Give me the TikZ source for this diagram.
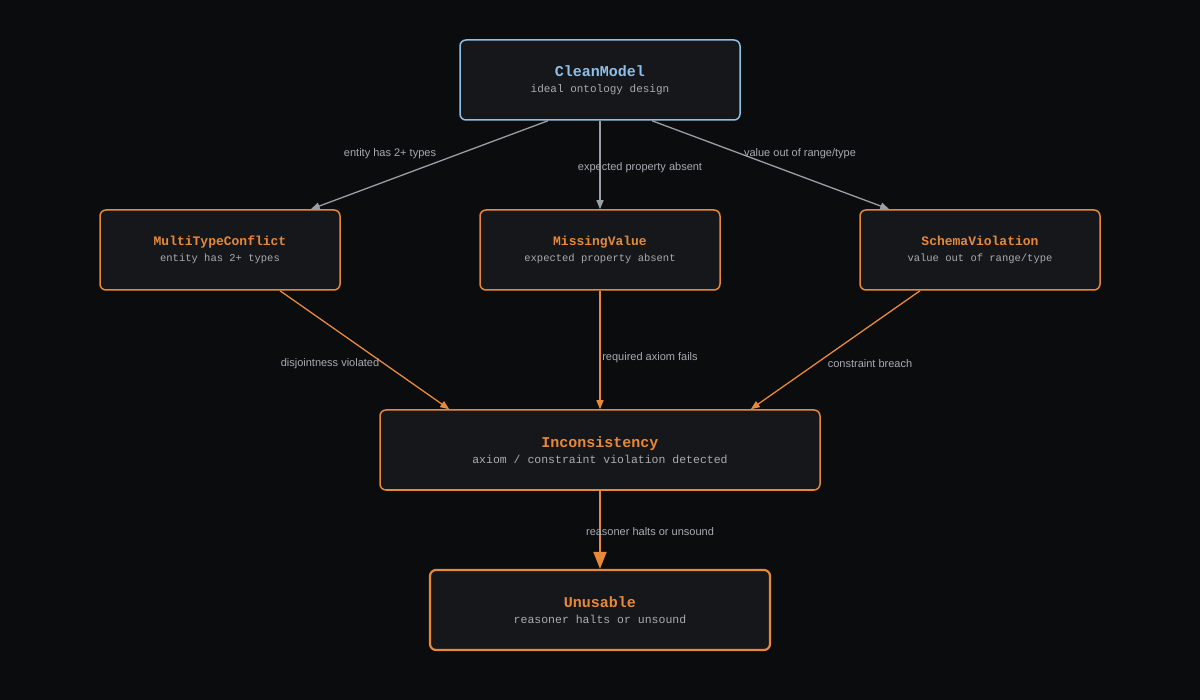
\documentclass[tikz,border=0pt]{standalone}
\usepackage{fontspec}
\setmainfont{Liberation Sans}
\newfontfamily\monofont{Liberation Mono}
\usetikzlibrary{calc}
\usetikzlibrary{arrows.meta}
\usetikzlibrary{positioning}
\definecolor{bgdark}{HTML}{0B0C0E}
\definecolor{boxfill}{HTML}{15171B}
\definecolor{orangeline}{HTML}{E8893A}
\definecolor{blueline}{HTML}{8EC0EA}
\definecolor{grayline}{HTML}{9A9EA6}
\definecolor{labeltext}{HTML}{A8ABB0}
\tikzset{state/.style={rectangle,rounded corners=6pt,fill=boxfill,draw=orangeline,line width=1.5pt,inner sep=0pt,align=center}}
\tikzset{elabel/.style={font=\fontsize{11}{13}\selectfont,text=labeltext}}
\begin{document}
\begin{tikzpicture}[x=1pt,y=-1pt]
  % canvas
  \fill[bgdark] (0,0) rectangle (1200,700);
  \useasboundingbox (0,0) rectangle (1200,700);
 \tikzset{edge/.style={-{Triangle[length=9pt,width=7pt]},line width=1.3pt}}

  \node[state,draw=blueline,minimum width=280pt,minimum height=80pt] (clean) at (600,80)
    {{\monofont\bfseries\fontsize{15}{18}\selectfont\color{blueline}CleanModel}\\[4pt]
     {\monofont\fontsize{11}{13}\selectfont\color{labeltext}ideal ontology design}};
  \node[state,minimum width=240pt,minimum height=80pt] (multi) at (220,250)
    {{\monofont\bfseries\fontsize{13}{16}\selectfont\color{orangeline}MultiTypeConflict}\\[4pt]
     {\monofont\fontsize{10.5}{13}\selectfont\color{labeltext}entity has 2+ types}};
  \node[state,minimum width=240pt,minimum height=80pt] (missing) at (600,250)
    {{\monofont\bfseries\fontsize{13}{16}\selectfont\color{orangeline}MissingValue}\\[4pt]
     {\monofont\fontsize{10.5}{13}\selectfont\color{labeltext}expected property absent}};
  \node[state,minimum width=240pt,minimum height=80pt] (schema) at (980,250)
    {{\monofont\bfseries\fontsize{13}{16}\selectfont\color{orangeline}SchemaViolation}\\[4pt]
     {\monofont\fontsize{10.5}{13}\selectfont\color{labeltext}value out of range/type}};
  \node[state,minimum width=440pt,minimum height=80pt] (incons) at (600,450)
    {{\monofont\bfseries\fontsize{15}{18}\selectfont\color{orangeline}Inconsistency}\\[4pt]
     {\monofont\fontsize{11.5}{14}\selectfont\color{labeltext}axiom / constraint violation detected}};
  \node[state,line width=2.2pt,minimum width=340pt,minimum height=80pt] (unusable) at (600,610)
    {{\monofont\bfseries\fontsize{15}{18}\selectfont\color{orangeline}Unusable}\\[4pt]
     {\monofont\fontsize{11.5}{14}\selectfont\color{labeltext}reasoner halts or unsound}};

  % gray connectors
  \draw[edge,grayline] ($(clean.south)+(-52,0)$) -- ($(multi.north east)+(-30,0)$);
  \draw[edge,grayline] (clean.south) -- (missing.north);
  \draw[edge,grayline] ($(clean.south)+(52,0)$) -- ($(schema.north west)+(30,0)$);
  % orange connectors
  \draw[edge,orangeline] ($(multi.south)+(60,0)$) -- ($(incons.north west)+(70,0)$);
  \draw[edge,orangeline] (missing.south) -- (incons.north);
  \draw[edge,orangeline] ($(schema.south)+(-60,0)$) -- ($(incons.north east)+(-70,0)$);
  \draw[-{Triangle[length=17pt,width=13pt]},line width=2pt,orangeline] (incons.south) -- (unusable.north);

  \node[elabel] (l1) at (390,154) {entity has 2+ types};
  \node[elabel] (l2) at (640,168) {expected property absent};
  \node[elabel] (l3) at (800,154) {value out of range/type};
  \node[elabel] (l4) at (330,364) {disjointness violated};
  \node[elabel] (l5) at (650,358) {required axiom fails};
  \node[elabel] (l6) at (870,364) {constraint breach};
  \node[elabel] (l7) at (650,532) {reasoner halts or unsound};
\end{tikzpicture}
\end{document}
